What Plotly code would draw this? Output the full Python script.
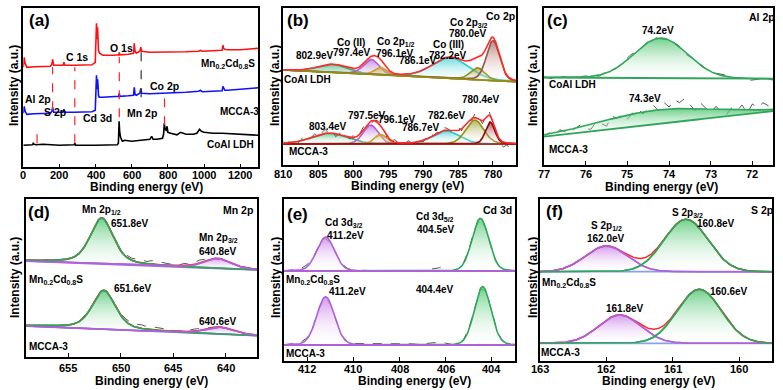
import numpy as np
import plotly.graph_objects as go

W, H = 783, 390

# ---------------- (a) survey spectra (height above axis, a.u.) ----------------
A_EV_LDH = [0, 20, 50, 55, 60, 70, 100, 110, 200, 270, 282, 285, 290, 400, 520, 526, 530, 533, 538, 548,
            560, 600, 680, 700, 710, 718, 740, 770, 776, 780, 784, 790, 795, 800, 815, 850, 870, 900, 940,
            960, 975, 985, 1000, 1050, 1100, 1150, 1200, 1250, 1300]
A_INT_LDH = [22, 22, 22.5, 24, 23, 22.5, 22.5, 23, 22, 22, 22.5, 24, 22, 22, 22.5, 24, 46, 36, 30, 26,
             27, 26, 27, 28, 31, 28, 28, 29, 33, 44, 38, 37, 41, 35, 34, 32.5, 35, 33, 33,
             34, 38, 36, 35, 34, 34, 33.5, 33, 32.5, 32]
A_EV_MCCA = [0, 5, 10, 20, 60, 100, 150, 158, 162, 168, 220, 225, 230, 280, 380, 398, 402, 405, 408, 411,
             413, 416, 420, 440, 500, 528, 531, 534, 580, 610, 614, 618, 625, 645, 650, 655, 700, 780, 800,
             900, 970, 980, 990, 1050, 1100, 1104, 1108, 1115, 1130, 1200, 1300]
A_INT_MCCA = [54, 61, 56, 53, 53.5, 54, 54, 56, 60, 55, 55, 58, 55, 55, 55.5, 57, 85, 92, 78, 88,
              83, 72, 70, 70, 70.5, 71, 74, 71, 71.5, 72, 80, 73, 72, 74, 79, 74, 73.5, 74, 74,
              75, 76, 77, 75.5, 76, 76.5, 81, 79, 77, 77, 78, 79.5]
A_EV_MCS = [0, 5, 10, 20, 60, 100, 150, 158, 162, 168, 220, 225, 230, 280, 380, 398, 402, 405, 408, 411,
            413, 416, 422, 440, 500, 528, 531, 534, 580, 610, 614, 618, 625, 645, 650, 655, 700, 800, 900,
            970, 980, 990, 1050, 1100, 1104, 1108, 1115, 1130, 1200, 1300]
A_INT_MCS = [100, 110, 104, 100, 100.5, 101, 101, 103, 108, 102, 102, 105, 102, 102, 102.5, 105, 140, 144, 128, 140,
             130, 117, 114, 112, 112, 112.5, 115, 112.5, 113, 114, 124, 116, 114, 116, 120, 116, 115, 115, 115.5,
             116, 117, 116, 116.5, 117, 122, 119, 118, 117.5, 117.5, 119]
A_MARK_EV = [76, 162, 285, 531, 652, 781]
A_MARK_Y0 = [24, 57, 24, 50, 70, 42]
A_MARK_Y1 = [37, 100, 100, 110, 117, 70]
A_MARK_COLOR = ['#ff2020', '#ff2020', '#ff2020', '#ff2020', '#333333', '#ff2020']

# ---------------- (b) Co 2p ----------------
B_LDH_CENTER = [802.9, 797.4, 796.1, 786.1, 782.2, 780.0]
B_LDH_HEIGHT = [8, 15, 7.5, 21, 12, 40]
B_LDH_FWHM = [5.0, 2.6, 2.0, 6.0, 2.4, 2.2]
B_LDH_BASE = [95, 83.3]
B_MCCA_CENTER = [803.4, 797.5, 796.1, 786.7, 782.6, 780.4]
B_MCCA_HEIGHT = [10.7, 19, 9.7, 13, 24, 22]
B_MCCA_FWHM = [6.0, 2.5, 2.0, 4.5, 3.0, 1.6]
B_MCCA_BASE = [21, 21]
B_MCCA_RESID = [2, -1.5, 3, 0.5, -2.5, 1, 3.5, -1, 0, 2.5, -2, 1.5, 4, -0.5, 2, -3, 1, 3, 0.5, -1.5,
                2, -2.5, 1, 3, -1, -3, 0.5, 2, -2, 1.5, -3.5, 0, 2.5, -1, -3, 1, 2, -2, 3.5, 0.5,
                -1.5, 2, 4, -0.5, 1, -2, 3, 1.5, -1, 2.5, 4, -2, 3, 1, -1.5, 5, 2, -3, 1, 3,
                -2, -1, -3, -5, -2, -6, -3]
B_LDH_COLORS = ['#3cb371', '#b160d6', '#c9a227', '#27c9cc', '#8f8f14', '#9a5546']
B_MCCA_COLORS = ['#3cb371', '#b160d6', '#c9a227', '#27c9cc', '#8f8f14', '#8b0a0a']

# ---------------- (c) Al 2p ----------------
C_LDH_PEAK = [74.2, 40, 1.5]      # center, height, fwhm
C_LDH_BASE = [87.5, 86.3]
C_LDH_RESID = [0.5, -1, 1.5, 0, -1.5, 1, 0.5, -1, 1.5, -0.5, 1, 2, -1, 0.5, 1.5, -1, 0, 1, -1.5, 0.5,
               1, -1, 0.5, 1.5, -1, 0, -2, -1, 0.5, -1.5]
C_MCCA_PEAK = [74.3, 14, 3.2]
C_MCCA_BASE = [28.3, 54]
C_MCCA_RESID = [-2, 1, -3, 2, -1, -4, 0, 2, -3, -5, 1, -2, -6, 3, -1, 2, -4, 1, 4, -2,
                3, 5, -1, 7, 2, 9, 6, 10, 4, -2, 6, 1, -4, 3, -2, -5, 2, -1, 5, -3,
                6, 2, 7, 4, -1]

# ---------------- (d) Mn 2p ----------------
D_MCS_CENTER = [651.8, 640.8]
D_MCS_HEIGHT = [46, 10]
D_MCS_FWHM = [2.6, 3.0]
D_MCS_BASE = [96, 87]
D_MCCA_CENTER = [651.6, 640.6]
D_MCCA_HEIGHT = [39, 7]
D_MCCA_FWHM = [2.6, 3.0]
D_MCCA_BASE = [31, 21.3]
D_MCS_RESID = [0, 0.5, -0.5, 0, 0.5, 0, -0.5, 0.5, 0, 1, -1, 1, 0, -1, 0.5, 0, 1, 0.5, 1.5, 2,
               2, 2.5, 3, 2, 3.5, 3, 2, 1.5, 1, 0, 2, 1, 1.5, 3, 2, 0.5, -1, 0, 0.5, -0.5,
               0, 0.5, 0, -0.5, 0]
D_MCCA_RESID = [0, -0.5, 0.5, 0, -0.5, 0.5, 0, 0.5, -0.5, 1, 0, 1.5, 0.5, -1, 0.5, 0, 1, 1.5, 2, 2.5,
                2.5, 3, 3.5, 2.5, 3, 2.5, 2, 1.5, 0.5, 0, 1.5, 1, 2, 1.5, 1, 0.5, 0, 0.5, 0, -0.5,
                0, 0.5, 0, -0.5, 0]

# ---------------- (e) Cd 3d ----------------
E_MCS_CENTER = [411.2, 404.5]
E_MCS_HEIGHT = [34, 52.7]
E_MCS_FWHM = [0.9, 0.85]
E_MCS_BASE = 89.5
E_MCCA_CENTER = [411.2, 404.4]
E_MCCA_HEIGHT = [48.3, 58.3]
E_MCCA_FWHM = [0.9, 0.85]
E_MCCA_BASE = 15.5
E_MCS_RESID = [0, 0.5, 1, 1.5, 2, 1, 0, -1, -0.5, 0, 0.5, 0.5, 0, 0, 0.5, 0, -0.5, 0, 0.5, 0,
               0, 0.5, 0, -0.5, 0.5, 1, 2, 3, 2, -1, -1.5, 0, 1, 0.5, 0, 0.5, 0, 0, -0.5, 0, 0]
E_MCCA_RESID = [0, 0.5, 1, 1.5, 1, 0.5, 0, -1, -0.5, 0.5, 0, 0.5, 0.5, 1, 1, 1, 1, 1, 1, 1,
                0.5, 1, 1, 0.5, 1, 1.5, 2, 2.5, 1.5, 0, -1, 0, 1, 0.5, 0, 0.5, 0, 0, -0.5, 0, 0]

# ---------------- (f) S 2p ----------------
F_MCS_CENTER = [162.0, 160.8]
F_MCS_HEIGHT = [25.7, 52.4]
F_MCS_FWHM = [0.75, 0.78]
F_MCS_BASE = 88.8
F_MCCA_CENTER = [161.8, 160.6]
F_MCCA_HEIGHT = [28.3, 54]
F_MCCA_FWHM = [0.75, 0.78]
F_MCCA_BASE = 17.2

GREEN = '#2fa65a'
GREEN_FILL = '#4cc46e'
PURPLE = '#b060d8'
PURPLE_FILL = '#c77ee6'
RED = '#ff2a2a'
FONT = 'Liberation Sans, Arial, sans-serif'

# ---------------- layout geometry (pixels) ----------------
PANELS = {
    'a': dict(x=(23.3, 258.3), y=(8, 167.3), xr=[0, 1300], yr=[0, 159.3], tv=[0, 200, 400, 600, 800, 1000, 1200], ty=175),
    'b': dict(x=(283.3, 516), y=(8, 165), xr=[810, 776.7], yr=[0, 157], tv=[810, 805, 800, 795, 790, 785, 780], ty=174),
    'c': dict(x=(544, 773.3), y=(8, 165), xr=[77, 71.5], yr=[0, 157], tv=[77, 76, 75, 74, 73, 72], ty=174),
    'd': dict(x=(26, 257.3), y=(199, 357), xr=[659, 637], yr=[0, 158], tv=[655, 650, 645, 640], ty=367.5),
    'e': dict(x=(284, 515), y=(199, 360.5), xr=[413, 403], yr=[0, 161.5], tv=[412, 410, 408, 406, 404], ty=369),
    'f': dict(x=(540, 772.3), y=(199, 360.5), xr=[163, 159.5], yr=[0, 161.5], tv=[163, 162, 161, 160], ty=368.5),
}
ORDER = ['a', 'b', 'c', 'd', 'e', 'f']

fig = go.Figure()
layout = {}
ann = []
for i, k in enumerate(ORDER):
    p = PANELS[k]
    sfx = '' if i == 0 else str(i + 1)
    p['xa'] = 'x' + sfx
    p['ya'] = 'y' + sfx
    layout['xaxis' + sfx] = dict(
        domain=[p['x'][0] / W, p['x'][1] / W], range=p['xr'], anchor='y' + sfx,
        showline=True, mirror=True, linecolor='black', linewidth=1.6,
        ticks='inside', ticklen=4, tickwidth=1.4, tickcolor='black',
        tickvals=p['tv'], showticklabels=False, showgrid=False, zeroline=False)
    layout['yaxis' + sfx] = dict(
        domain=[1 - p['y'][1] / H, 1 - p['y'][0] / H], range=p['yr'], anchor='x' + sfx,
        showline=True, mirror=True, linecolor='black', linewidth=1.6,
        showticklabels=False, ticks='', showgrid=False, zeroline=False)
    for tv in p['tv']:
        ann.append(dict(text='<b>%g</b>' % tv, x=tv, xref=p['xa'], y=1 - p['ty'] / H, yref='paper',
                        showarrow=False, xanchor='center', yanchor='middle',
                        font=dict(family=FONT, size=11, color='black')))


def pv(x, c, h, w, eta=0.3):
    g = np.exp(-4 * np.log(2) * ((x - c) / w) ** 2)
    lo = 1.0 / (1 + 4 * ((x - c) / w) ** 2)
    return h * (eta * lo + (1 - eta) * g)


def line(k, x, y, color, width=1.5, dash=None):
    p = PANELS[k]
    fig.add_trace(go.Scatter(x=x, y=y, mode='lines', xaxis=p['xa'], yaxis=p['ya'],
                             line=dict(color=color, width=width, dash=dash), hoverinfo='skip',
                             showlegend=False))


def comp(k, x, base, y, color, fillcolor):
    p = PANELS[k]
    xs = np.concatenate([x, x[::-1]])
    ys = np.concatenate([base + y, base[::-1]])
    fig.add_trace(go.Scatter(x=xs, y=ys, mode='lines', fill='toself', xaxis=p['xa'], yaxis=p['ya'],
                             line=dict(width=0), hoverinfo='skip', showlegend=False,
                             fillgradient=dict(type='vertical',
                                               colorscale=[[0, 'rgba(255,255,255,0.1)'], [1, fillcolor]])))
    line(k, x, base + y, color, 1.6)


def rgba(hexc, a):
    hexc = hexc.lstrip('#')
    r, g, b = int(hexc[0:2], 16), int(hexc[2:4], 16), int(hexc[4:6], 16)
    return f'rgba({r},{g},{b},{a})'


# ---------------- (a) ----------------
for ev, yv, col in [(A_EV_LDH, A_INT_LDH, 'black'), (A_EV_MCCA, A_INT_MCCA, '#1010ff'),
                    (A_EV_MCS, A_INT_MCS, '#ff1010')]:
    line('a', ev, yv, col, 1.6)
for ev, y0, y1, col in zip(A_MARK_EV, A_MARK_Y0, A_MARK_Y1, A_MARK_COLOR):
    line('a', [ev, ev], [y0, y1], col, 1.2, 'dash')


# ---------------- (b) ----------------
def panel_b(centers, heights, fwhms, base, colors, resid, env_col):
    x = np.linspace(810, 776.7, 400)
    b = np.interp(x, [776.7, 810], [base[1], base[0]])
    env = np.zeros_like(x)
    for c, h, w, col in zip(centers, heights, fwhms, colors):
        y = pv(x, c, h, w, 0.2)
        env += y
        comp('b', x, b, y, col, rgba(col, 0.7))
    if resid is not None:
        xr = np.linspace(810, 777, len(resid))
        er = np.interp(xr, x[::-1], (b + env)[::-1])
        line('b', xr, er + np.array(resid), '#444444', 0.9, 'dash')
    line('b', x, b, env_col, 1.6)
    line('b', x, b + env, RED, 1.6)


panel_b(B_LDH_CENTER, B_LDH_HEIGHT, B_LDH_FWHM, B_LDH_BASE, B_LDH_COLORS, None, '#8f8f14')
panel_b(B_MCCA_CENTER, B_MCCA_HEIGHT, B_MCCA_FWHM, B_MCCA_BASE, B_MCCA_COLORS, B_MCCA_RESID, '#b01010')


# ---------------- (c) ----------------
def panel_c(peak, base, resid):
    x = np.linspace(77, 71.5, 300)
    b = np.interp(x, [71.5, 77], [base[1], base[0]])
    y = pv(x, peak[0], peak[1], peak[2], 0.0)
    xr = np.linspace(77, 71.5, len(resid))
    er = np.interp(xr, x[::-1], (b + y)[::-1])
    line('c', xr, er + np.array(resid), '#444444', 0.9, 'dash')
    comp('c', x, b, y, GREEN, rgba(GREEN_FILL, 0.8))
    line('c', x, b, GREEN, 1.8)


panel_c(C_LDH_PEAK, C_LDH_BASE, C_LDH_RESID)
panel_c(C_MCCA_PEAK, C_MCCA_BASE, C_MCCA_RESID)


# ---------------- (d), (e), (f) two-component panels ----------------
def panel_two(k, xr_, centers, heights, fwhms, base, resid, eta, envelope, base_col):
    x = np.linspace(xr_[0], xr_[1], 400)
    if isinstance(base, (list, tuple)):
        b = np.interp(x, [xr_[1], xr_[0]], [base[1], base[0]])
    else:
        b = np.full_like(x, float(base))
    cols = [(GREEN, GREEN_FILL), (PURPLE, PURPLE_FILL)]
    order_cols = [cols[0], cols[1]] if k == 'd' else [cols[1], cols[0]]
    env = np.zeros_like(x)
    ys = []
    for c, h, w in zip(centers, heights, fwhms):
        y = pv(x, c, h, w, eta)
        ys.append(y)
        env += y
    if resid is not None:
        xx = np.linspace(xr_[0], xr_[1], len(resid))
        er = np.interp(xx, x[::-1], (b + env)[::-1])
        line(k, xx, er + np.array(resid), '#444444', 0.9, 'dash')
    for y, (lc, fc) in zip(ys, order_cols):
        comp(k, x, b, y, lc, rgba(fc, 0.8))
    line(k, x, b, base_col, 1.8)
    if envelope:
        line(k, x, b + env, RED, 1.5)
        for y, (lc, fc) in zip(ys, order_cols):
            line(k, x, b + y, lc, 1.6)


panel_two('d', [659, 637], D_MCS_CENTER, D_MCS_HEIGHT, D_MCS_FWHM, D_MCS_BASE, D_MCS_RESID, 0.5, True, '#a070e0')
panel_two('d', [659, 637], D_MCCA_CENTER, D_MCCA_HEIGHT, D_MCCA_FWHM, D_MCCA_BASE, D_MCCA_RESID, 0.5, True, '#9070e0')
panel_two('e', [413, 403], E_MCS_CENTER, E_MCS_HEIGHT, E_MCS_FWHM, E_MCS_BASE, E_MCS_RESID, 0.1, False, '#b060d8')
panel_two('e', [413, 403], E_MCCA_CENTER, E_MCCA_HEIGHT, E_MCCA_FWHM, E_MCCA_BASE, E_MCCA_RESID, 0.1, False, '#b060d8')
panel_two('f', [163, 159.5], F_MCS_CENTER, F_MCS_HEIGHT, F_MCS_FWHM, F_MCS_BASE, None, 0.0, True, '#8aa0e8')
panel_two('f', [163, 159.5], F_MCCA_CENTER, F_MCCA_HEIGHT, F_MCCA_FWHM, F_MCCA_BASE, None, 0.0, True, '#8aa0e8')

# ---------------- text ----------------
MCS = 'Mn<sub>0.2</sub>Cd<sub>0.8</sub>S'
LABELS = [
    # panel a
    ('(a)', 39, 20, 17), ('O 1s', 121, 48, 10.5), ('C 1s', 77, 57, 10.5), ('Co 2p', 164, 86, 10.5),
    ('Al 2p', 38, 99, 10.5), ('MCCA-3', 240, 111, 10), (MCS, 228, 64, 10), ('S 2p', 55, 112, 10.5),
    ('Cd 3d', 97, 118, 10.5), ('Mn 2p', 142, 113, 10.5), ('CoAl LDH', 230, 144, 10),
    # panel b
    ('(b)', 298, 20, 17), ('Co 2p', 500, 16, 10.5), ('Co 2p<sub>3/2</sub>', 469, 23, 10),
    ('780.0eV', 468, 33, 10), ('Co (II)', 351, 42, 10), ('797.4eV', 352, 53, 10),
    ('Co 2p<sub>1/2</sub>', 396, 42, 10), ('796.1eV', 395, 54, 10), ('802.9eV', 315, 56, 10),
    ('786.1eV', 418, 60, 10), ('Co (III)', 448, 44, 10), ('782.2eV', 448, 55.5, 10),
    ('CoAl LDH', 307, 80, 10), ('780.4eV', 481, 99, 10), ('797.5eV', 367, 115, 10),
    ('796.1eV', 397, 119, 10), ('782.6eV', 447, 115, 10), ('803.4eV', 328, 127, 10),
    ('786.7eV', 421, 128, 10), ('MCCA-3', 308, 152, 10),
    # panel c
    ('(c)', 557, 20, 17), ('Al 2p', 762, 17, 10.5), ('74.2eV', 658, 31, 10), ('CoAl LDH', 572, 84, 10),
    ('74.3eV', 645, 98, 10), ('MCCA-3', 568, 149, 10),
    # panel d
    ('(d)', 39, 213, 17), ('Mn 2p', 238, 210, 10.5), ('Mn 2p<sub>1/2</sub>', 101, 210, 10),
    ('651.8eV', 130, 224, 10), ('Mn 2p<sub>3/2</sub>', 219, 238, 10), ('640.8eV', 218, 251, 10),
    (MCS, 56, 280, 10), ('651.6eV', 133, 288, 10), ('640.6eV', 218, 321, 10), ('MCCA-3', 48, 346, 10),
    # panel e
    ('(e)', 297, 214, 17), ('Cd 3d', 497, 210, 10.5), ('Cd 3d<sub>3/2</sub>', 344, 223, 10),
    ('411.2eV', 345, 235, 10), ('Cd 3d<sub>5/2</sub>', 435, 217, 10), ('404.5eV', 436, 229, 10),
    (MCS, 313, 280, 10), ('411.2eV', 347, 291, 10), ('404.4eV', 435, 289, 10), ('MCCA-3', 305, 353, 10),
    # panel f
    ('(f)', 554, 212, 17), ('S 2p', 762, 210, 10.5), ('S 2p<sub>3/2</sub>', 687, 213, 10),
    ('160.8eV', 716, 224, 10), ('S 2p<sub>1/2</sub>', 606, 226, 10), ('162.0eV', 606, 238, 10),
    (MCS, 569, 283, 10), ('160.6eV', 729, 291, 10), ('161.8eV', 625, 308, 10), ('MCCA-3', 560, 352, 10),
]
for t, x, y, s in LABELS:
    ann.append(dict(text='<b>' + t + '</b>', x=x / W, y=1 - y / H, xref='paper', yref='paper',
                    showarrow=False, xanchor='center', yanchor='middle',
                    font=dict(family=FONT, size=s, color='black')))

XTITLES = [(146, 186.5), (407, 185.5), (661, 186.5), (151, 381), (414, 381), (658, 381)]
for x, y in XTITLES:
    ann.append(dict(text='<b>Binding energy (eV)</b>', x=x / W, y=1 - y / H, xref='paper', yref='paper',
                    showarrow=False, xanchor='center', yanchor='middle',
                    font=dict(family=FONT, size=12, color='black')))
YTITLES = [(14, 86), (275, 86), (533, 86), (15, 278), (276, 278), (533, 278)]
for x, y in YTITLES:
    ann.append(dict(text='<b>Intensity (a.u.)</b>', x=x / W, y=1 - y / H, xref='paper', yref='paper',
                    showarrow=False, xanchor='center', yanchor='middle', textangle=-90,
                    font=dict(family=FONT, size=12, color='black')))

layout.update(width=W, height=H, margin=dict(l=0, r=0, t=0, b=0), paper_bgcolor='white',
              plot_bgcolor='white', showlegend=False, annotations=ann,
              font=dict(family=FONT, color='black'))
fig.update_layout(**layout)
fig.write_html('out.html')
